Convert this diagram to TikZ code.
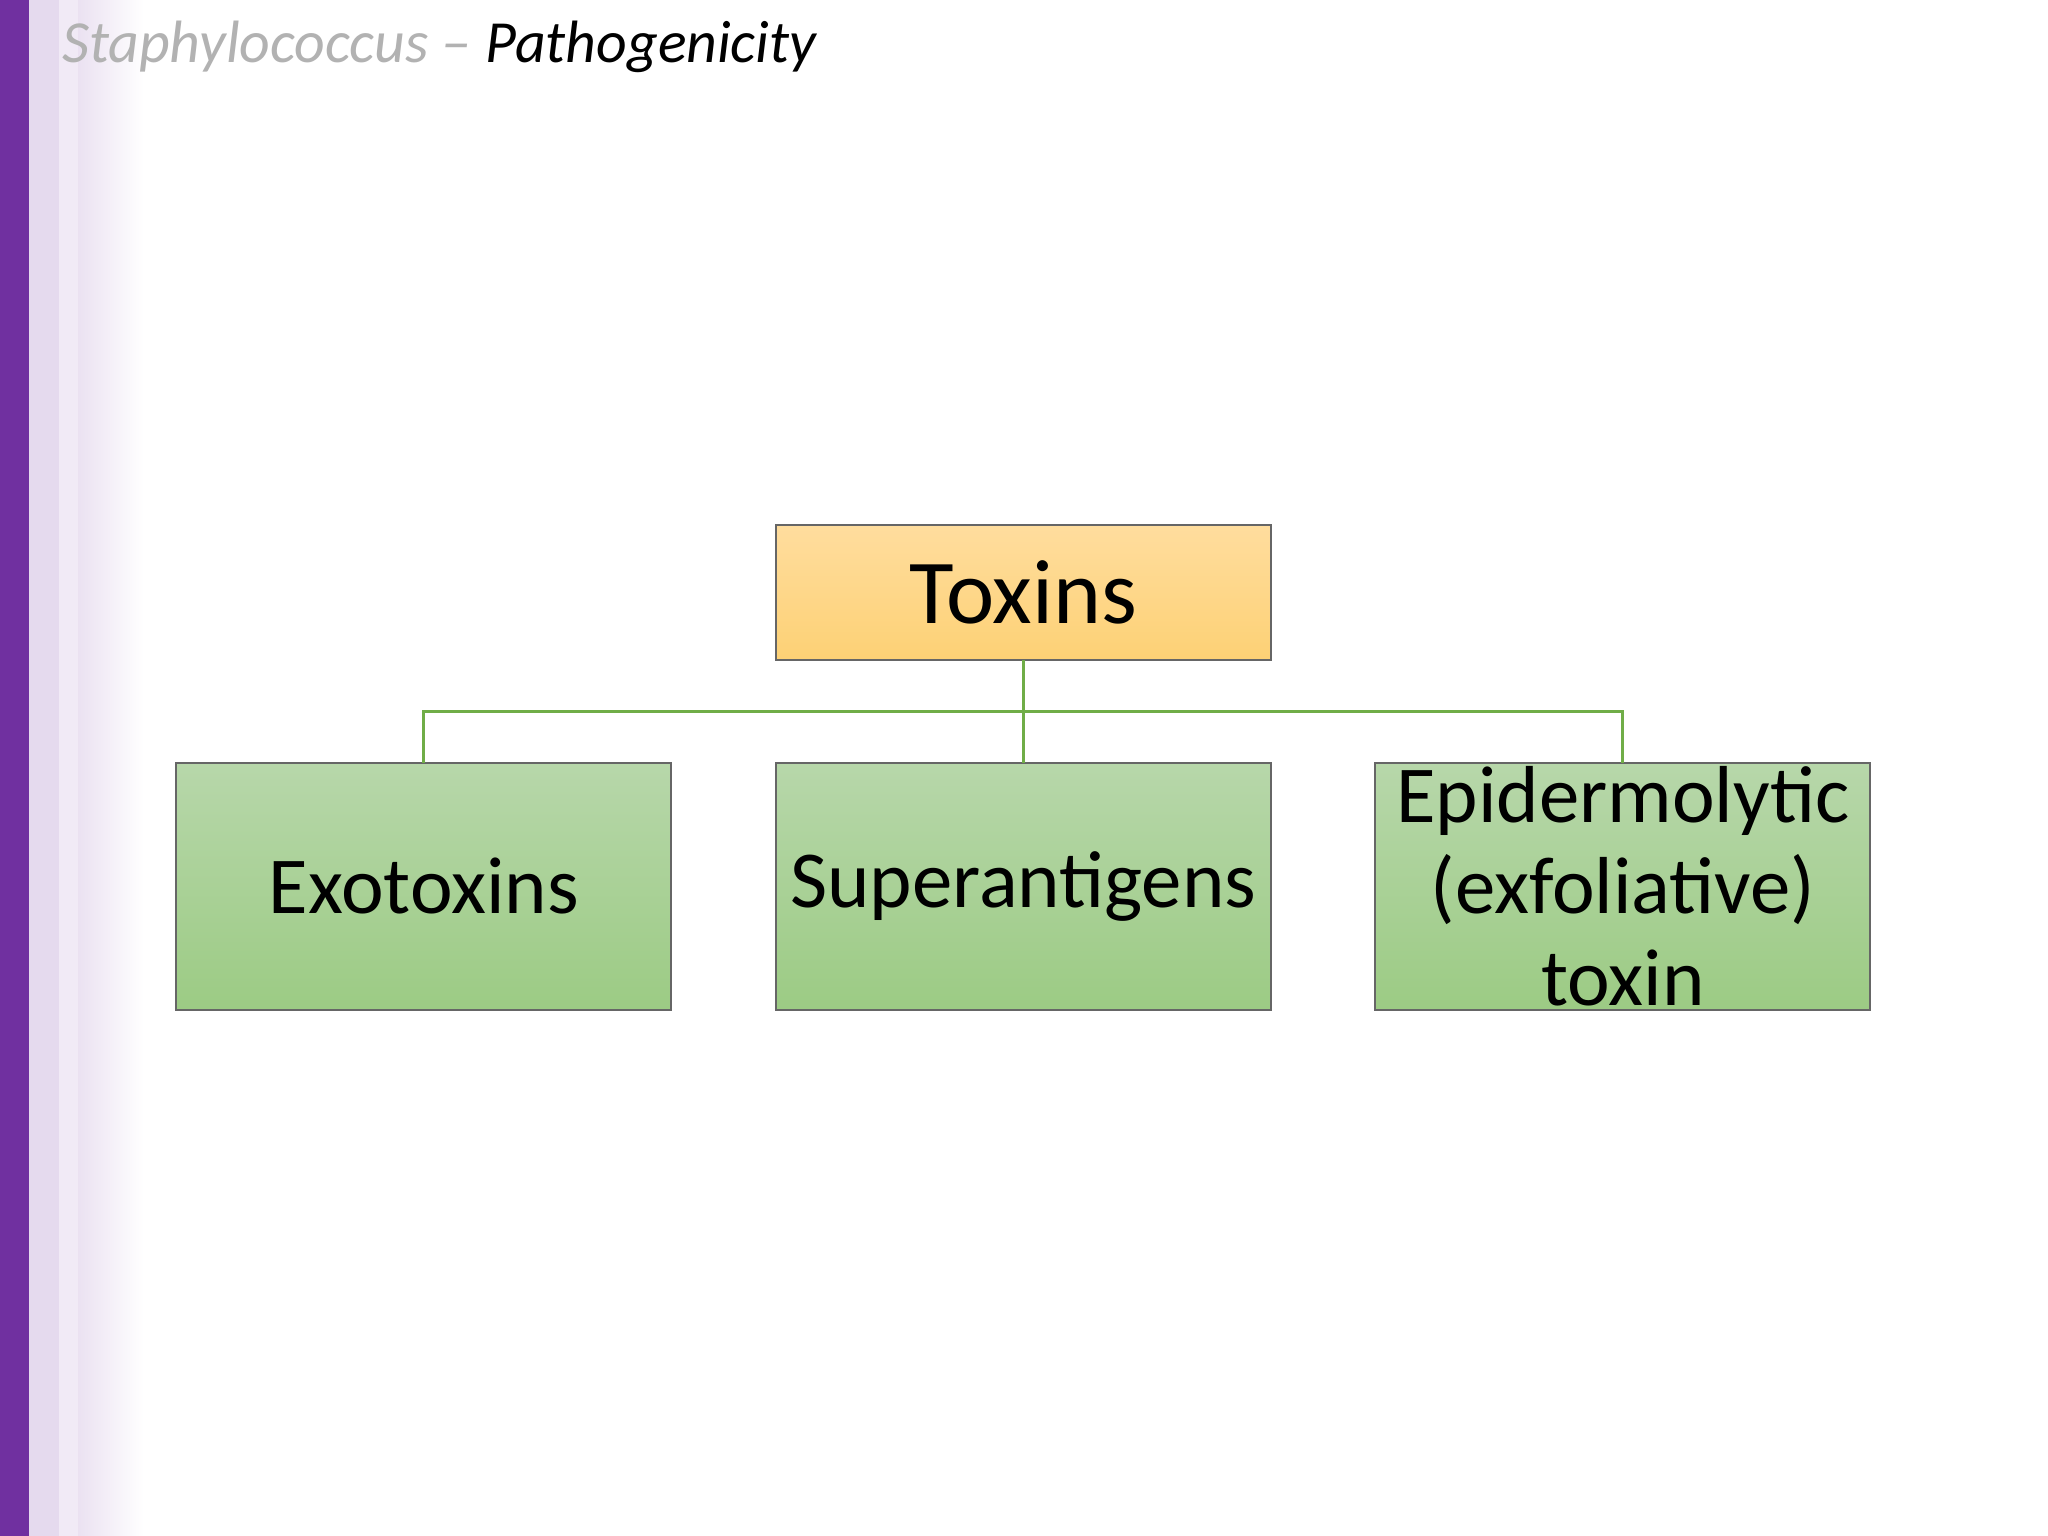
\documentclass[tikz,border=0pt]{standalone}
\usepackage{fontspec}
\setmainfont{Carlito}
\definecolor{purp}{HTML}{7030A0}
\definecolor{ylt}{HTML}{FFDD9E}
\definecolor{ydk}{HTML}{FDD175}
\definecolor{glt}{HTML}{B7D7AA}
\definecolor{gdk}{HTML}{9CCB84}
\definecolor{gline}{HTML}{70AD47}
\begin{document}
\begin{tikzpicture}[x=0.013061cm,y=-0.013061cm,
  ybox/.style={draw=gray!80!black,line width=0.6pt,top color=ylt,bottom color=ydk},
  gbox/.style={draw=gray!80!black,line width=0.6pt,top color=glt,bottom color=gdk},
  gtext/.style={align=center,font=\fontsize{23}{26}\selectfont},
  conn/.style={draw=gline,line width=0.8pt}]
\useasboundingbox (0,0) rectangle (1568,1176);
\fill[white] (0,0) rectangle (1568,1176);
\shade[left color=purp!25,right color=white] (22,0) rectangle (110,1176);
\fill[purp!18] (22,0) rectangle (45,1176);
\fill[purp!10] (45,0) rectangle (60,1176);
\fill[purp] (0,0) rectangle (22,1176);
\node[anchor=west,font=\itshape\fontsize{17}{20}\selectfont] (title) at (38,36) {\textcolor{gray!60}{Staphylococcus –} Pathogenicity};
\path[ybox] (594,402) rectangle (973,505);
\node[font=\fontsize{26}{30}\selectfont] (tox) at (783.5,453.5) {Toxins};
\coordinate (toxb) at (783.5,505);
\foreach \n/\x/\t in {exo/135/Exotoxins,sup/594/Superantigens,epi/1053/{Epidermolytic\\(exfoliative)\\toxin}}{
  \path[gbox] (\x,584) rectangle ({\x+379},773);
  \node[gtext] (\n) at ({\x+189.5},678.5) {\t};
  \coordinate (top\n) at ({\x+189.5},584);
}
\draw[conn] (toxb) -- (topsup);
\draw[conn] (topexo) |- (783.5,545) -| (topepi);
\end{tikzpicture}
\end{document}
